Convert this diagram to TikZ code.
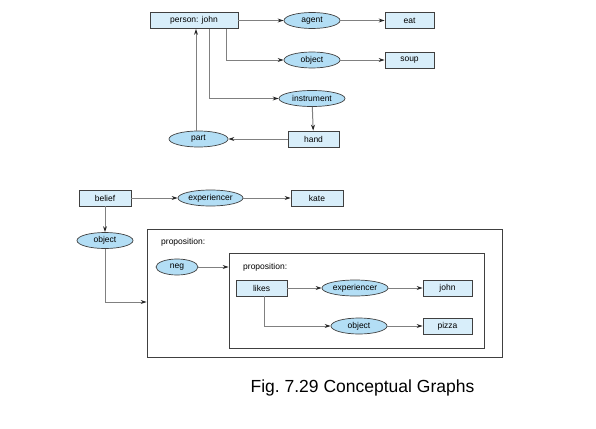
\documentclass[tikz,border=0pt]{standalone}
\usepackage{fontspec}
\setmainfont{Liberation Sans}
\usetikzlibrary{arrows.meta,shapes.geometric}

\definecolor{boxfill}{HTML}{D8EEFA}
\definecolor{ovalfill}{HTML}{B3DEF5}
\definecolor{wire}{HTML}{808080}

\tikzset{
  concept/.style={draw=black!75, fill=boxfill, line width=0.7pt, minimum height=16, inner sep=0pt, font=\fontsize{8.5}{10}\selectfont},
  relation/.style={ellipse, draw=black!75, fill=ovalfill, line width=0.7pt, minimum height=16, inner sep=0pt, font=\fontsize{8.5}{10}\selectfont},
  frame/.style={draw=black!75, line width=0.7pt},
  link/.style={draw=wire, line width=1pt, -{Stealth[length=6pt,width=4pt,color=black!85]}},
  label/.style={anchor=west, inner sep=0pt, font=\fontsize{8.5}{10}\selectfont}
}

\begin{document}
\begin{tikzpicture}[x=1pt, y=-1pt]
    \useasboundingbox (0,0) rectangle (596,428);

    % Upper graph
    \node[concept, minimum width=88] (john) at (194,20.5) {person: john};
    \node[relation, minimum width=56] (agent) at (312,20.5) {agent};
    \node[concept, minimum width=49] (eat) at (409.5,20.5) {eat};
    \node[relation, minimum width=56] (obj) at (312,60) {object};
    \node[concept, minimum width=49] (soup) at (409.5,60) {soup};
    \node[relation, minimum width=66] (instr) at (312,98.5) {instrument};
    \node[concept, minimum width=51] (hand) at (313.5,139) {hand};
    \node[relation, minimum width=59] (part) at (198.5,139) {part};

    \draw[link] (john) -- (agent);
    \draw[link] (agent) -- (eat);
    \draw[link] ([xshift=32]john.south) |- (obj);
    \draw[link] (obj) -- (soup);
    \draw[link] ([xshift=15]john.south) |- (instr);
    \draw[link] (instr) -- (hand);
    \draw[link] (hand) -- (part);
    \draw[link] ([xshift=-2.5]part.north) -- ([xshift=2]john.south);

    % Lower graph
    \node[concept, minimum width=52] (belief) at (105,198) {belief};
    \node[relation, minimum width=65] (exper) at (210.5,198) {experiencer};
    \node[concept, minimum width=52] (kate) at (317,198) {kate};
    \node[relation, minimum width=56] (bobj) at (105,240.5) {object};

    \node[frame, minimum width=355, minimum height=128, inner sep=0pt] (outer) at (324.5,293) {};
    \node[label] (outerlbl) at (161,242) {proposition:};
    \node[relation, minimum width=42] (neg) at (177,267) {neg};
    \node[frame, minimum width=255, minimum height=95, inner sep=0pt] (inner) at (356.5,300.5) {};
    \node[label] (innerlbl) at (243,267) {proposition:};

    \node[concept, minimum width=51] (likes) at (261.5,288) {likes};
    \node[relation, minimum width=66] (exper2) at (355,288) {experiencer};
    \node[concept, minimum width=49] (john2) at (447.5,288) {john};
    \node[relation, minimum width=56] (obj2) at (359,326) {object};
    \node[concept, minimum width=49] (pizza) at (447.5,326) {pizza};

    \draw[link] (belief) -- (exper);
    \draw[link] (exper) -- (kate);
    \draw[link] (belief) -- (bobj);
    \coordinate (entry) at (outer.west |- 0,302);
    \draw[link] (bobj.south) |- (entry);
    \draw[link] (neg) -- (neg -| inner.west);
    \draw[link] (likes) -- (exper2);
    \draw[link] (exper2) -- (john2);
    \draw[link] ([xshift=2.5]likes.south) |- (obj2);
    \draw[link] (obj2) -- (pizza);

    % Caption
    \node[font=\fontsize{17.5}{20}\selectfont, inner sep=0pt] (caption) at (362.5,388) {Fig.\ 7.29 Conceptual Graphs};
\end{tikzpicture}
\end{document}
